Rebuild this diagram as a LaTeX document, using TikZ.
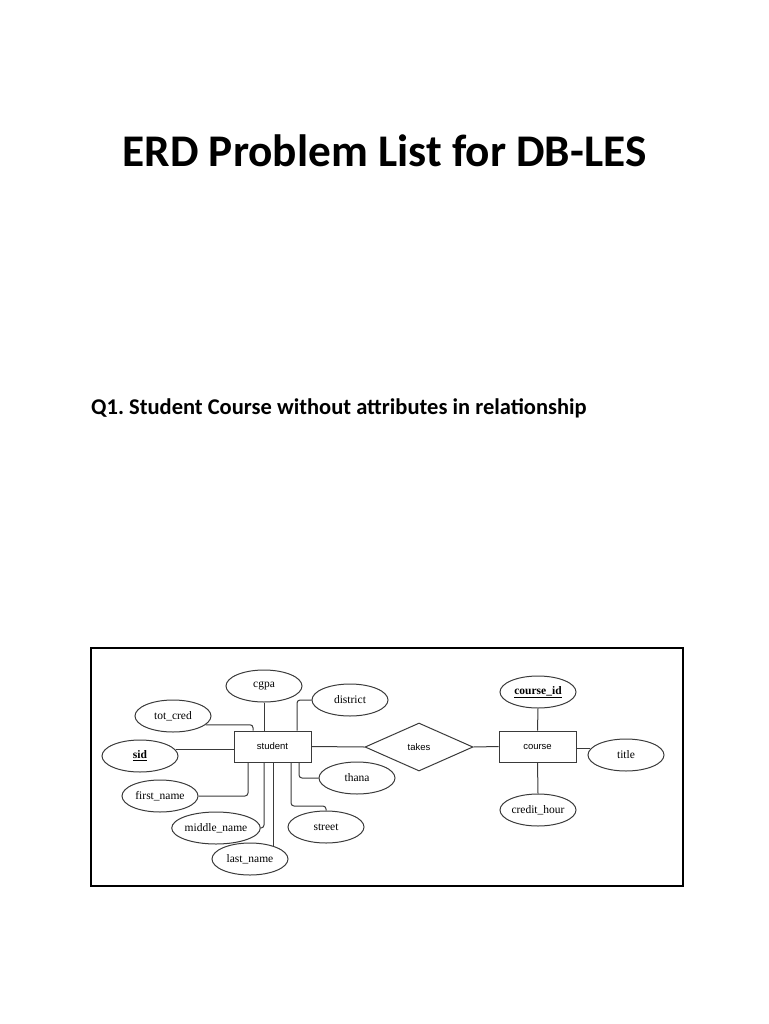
\documentclass[tikz,border=0pt]{standalone}
\usepackage{fontspec}
\setmainfont{Liberation Serif}
\newfontfamily\headfont{Carlito}
\newfontfamily\boxfont{Liberation Sans}
\usepackage{tikz}
\usetikzlibrary{shapes.geometric}
\definecolor{ink}{HTML}{000000}
\definecolor{line}{HTML}{3A3A3A}
\tikzset{
  attr/.style={ellipse, draw=line, line width=1pt, minimum width=76pt, minimum height=32pt, inner sep=0pt, font=\fontsize{11.5}{12}\selectfont},
  ent/.style={rectangle, draw=line, line width=1pt, minimum width=77pt, minimum height=31pt, inner sep=0pt, font=\boxfont\fontsize{9.5}{10}\selectfont},
  rel/.style={diamond, draw=line, line width=1pt, minimum width=108pt, minimum height=48pt, inner sep=0pt, font=\boxfont\fontsize{9.5}{10}\selectfont},
  link/.style={draw=line, line width=1pt, rounded corners=3pt},
}
\frenchspacing
\begin{document}
\begin{tikzpicture}[x=1pt, y=-1pt]
  \useasboundingbox (0,0) rectangle (768,1024);
  % headings
  \node[anchor=base, font=\headfont\bfseries\fontsize{45.3}{50}\selectfont] (head) at (384.5,167) {ERD Problem List for DB-LES};
  \node[anchor=base west, inner sep=0pt, font=\headfont\bfseries\fontsize{22.5}{26}\selectfont] (q1) at (91,414) {Q1. Student Course without attributes in relationship};
  % frame
  \draw[ink, line width=2pt] (91,648) rectangle (683,886);
  % entities and relationship
  \node[ent] (student) at (272.5,746.5) {student};
  \node[rel] (takes) at (419,747) {takes};
  \node[ent] (course) at (537.5,746.5) {course};
  % student attributes
  \node[attr] (cgpa) at (264,686) {cgpa};
  \node[attr] (district) at (350,700) {district};
  \node[attr] (totcred) at (173,716) {tot\_cred};
  \node[attr] (sid) at (140,756) {\underline{\textbf{sid}}};
  \node[attr] (firstname) at (160,796) {first\_name};
  \node[attr] (middlename) at (216,828) {middle\_name};
  \node[attr] (lastname) at (250,859) {last\_name};
  \node[attr] (thana) at (357,778) {thana};
  \node[attr] (street) at (326,827) {street};
  % course attributes
  \node[attr] (courseid) at (538,692) {\underline{\textbf{course\_id}}};
  \node[attr] (title) at (626,755) {title};
  \node[attr] (credithour) at (538,810) {credit\_hour};
  \coordinate (lntop) at (273,846);
  \coordinate (stbend) at (326,806);
  % connectors
  \draw[link] (cgpa.south) -- (cgpa.south |- student.north);
  \draw[link] (totcred.-15) -| ([xshift=-19.5pt]student.north);
  \draw[link] ([xshift=24.5pt]student.north) |- (district.west);
  \draw[link] (sid.10) -- (sid.10 -| student.west);
  \draw[link] (firstname.east) -| ([xshift=-24.5pt]student.south);
  \draw[link] (middlename.east) -| ([xshift=-8.5pt]student.south);
  \draw[link] (student.south -| lntop) -- (lntop);
  \draw[link] ([xshift=18.5pt]student.south) |- (stbend) -- (street.north);
  \draw[link] ([xshift=26.5pt]student.south) |- (thana.west);
  \draw[link] (student.east) -- (takes.west);
  \draw[link] (takes.east) -- (course.west);
  \draw[link] (courseid.south) -- (course.north);
  \draw[link] (course.south) -- (credithour.north);
  \draw[link] (title.170 -| course.east) -- (title.170);
\end{tikzpicture}
\end{document}
